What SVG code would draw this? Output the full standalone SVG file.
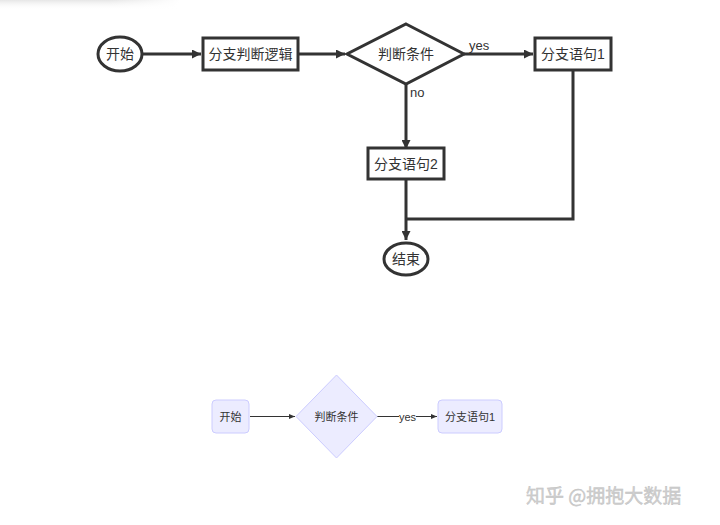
<svg xmlns="http://www.w3.org/2000/svg" width="720" height="525" viewBox="0 0 720 525">
<defs>
<style>
.n{fill:#fff;stroke:#333;stroke-width:3}
.t{font-family:"Liberation Sans","Noto Sans CJK SC",sans-serif;font-size:14px;fill:#333;text-anchor:middle;dominant-baseline:central}
.c{fill:none;stroke:#333;stroke-width:3}
.m{fill:#ECECFF;stroke:#CCCCFF;stroke-width:1}
.mt{font-family:"Liberation Sans","Noto Sans CJK SC",sans-serif;font-size:11px;fill:#333;text-anchor:middle;dominant-baseline:central}
.mc{fill:none;stroke:#333;stroke-width:1}
.lb{font-family:"Liberation Sans","Noto Sans CJK SC",sans-serif;font-size:13px;fill:#333}
</style>
<marker id="a" viewBox="0 0 10 10" refX="10" refY="5" markerWidth="3" markerHeight="3" orient="auto"><path d="M0,0L10,5L0,10z" fill="#333"/></marker>
<marker id="b" viewBox="0 0 10 10" refX="10" refY="5" markerWidth="6" markerHeight="6" orient="auto"><path d="M0,1L10,5L0,9z" fill="#333"/></marker>
<linearGradient id="g" x1="0" y1="0" x2="0" y2="1"><stop offset="0" stop-color="#e6e6e6"/><stop offset="1" stop-color="#fff" stop-opacity="0"/></linearGradient>
<linearGradient id="g2" x1="0" y1="0" x2="1" y2="0"><stop offset="0" stop-color="#fff" stop-opacity="0"/><stop offset="0.6" stop-color="#fff" stop-opacity="0"/><stop offset="1" stop-color="#fff"/></linearGradient>
</defs>
<rect width="720" height="525" fill="#fff"/>
<rect x="0" y="0" width="180" height="10" fill="url(#g)"/>
<rect x="0" y="0" width="180" height="10" fill="url(#g2)"/>
<g id="connectors">
<path class="c" d="M143,54H201" marker-end="url(#a)"/>
<path class="c" d="M298,54H345" marker-end="url(#a)"/>
<path class="c" d="M464,54H533" marker-end="url(#a)"/>
<path class="c" d="M406,84V149" marker-end="url(#a)"/>
<path class="c" d="M406,180V240" marker-end="url(#a)"/>
<path class="c" d="M573,70V219H406"/>
<text class="lb" x="469" y="50">yes</text>
<text class="lb" x="410" y="97">no</text>
<path class="mc" d="M250,416.5H295" marker-end="url(#b)"/>
<path class="mc" d="M377,416.5H399M416,416.5H437" marker-end="url(#b)"/>
<text class="mt" x="407.5" y="416.5">yes</text>
</g>
<g id="start"><ellipse class="n" cx="120" cy="54" rx="22" ry="17"/><text class="t" x="120" y="54">开始</text></g>
<g id="logic"><rect class="n" x="203" y="38" width="95" height="32"/><text class="t" x="250.5" y="54">分支判断逻辑</text></g>
<g id="cond"><path class="n" d="M406,24L464,54L406,84L347,54Z"/><text class="t" x="406" y="54">判断条件</text></g>
<g id="s1"><rect class="n" x="535" y="38" width="76" height="32"/><text class="t" x="573" y="54">分支语句1</text></g>
<g id="s2"><rect class="n" x="368" y="148" width="76" height="31"/><text class="t" x="406" y="163.5">分支语句2</text></g>
<g id="end"><ellipse class="n" cx="406" cy="259" rx="22" ry="16"/><text class="t" x="406" y="259">结束</text></g>
<g id="m-start"><rect class="m" x="212" y="400" width="37" height="33" rx="4"/><text class="mt" x="230.5" y="416.5">开始</text></g>
<g id="m-cond"><path class="m" d="M336.5,375L377,416.5L336.5,458L296,416.5Z"/><text class="mt" x="336.5" y="416.5">判断条件</text></g>
<g id="m-s1"><rect class="m" x="438" y="400" width="64" height="33" rx="4"/><text class="mt" x="470" y="416.5">分支语句1</text></g>
<text x="526" y="503" font-family="'Noto Sans CJK SC',sans-serif" font-size="19" fill="#d0d0d0" stroke="#bdbdbd" stroke-width="0.4">知乎 @拥抱大数据</text>
</svg>
